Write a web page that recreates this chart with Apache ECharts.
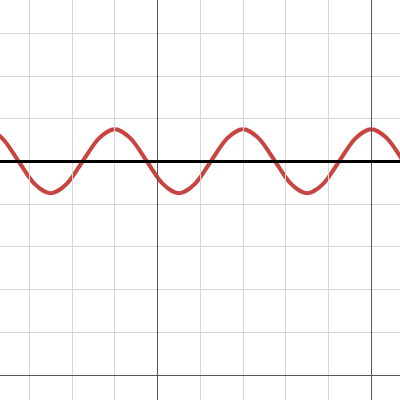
<!DOCTYPE html>
<html><head><meta charset="utf-8">
<script src="https://cdn.jsdelivr.net/npm/echarts@6/dist/echarts.min.js"></script>
<style>html,body{margin:0;padding:0;background:#fff}#c{width:400px;height:400px}</style>
</head><body><div id="c"></div>
<script>
// Values: wave points (x, y)
const waveX = [-4.375,-4,-3.625,-3.25,-2.875,-2.5,-2.125,-1.75,-1.375,-1,-0.625,-0.25,0.125,0.5,0.875,1.25,1.625,2,2.375,2.75,3.125,3.5,3.875,4.25,4.625,5,5.375,5.75,6.125];
const waveY = [5.53,5.75,5.53,5,4.47,4.25,4.47,5,5.53,5.75,5.53,5,4.47,4.25,4.47,5,5.53,5.75,5.53,5,4.47,4.25,4.47,5,5.53,5.75,5.53,5,4.47];
const flatLineY = 5;
const xTicks = [-3,-2,-1,0,1,2,3,4,5];
const yTicks = [0,1,2,3,4,5,6,7,8];
const darkX = [0,5];
const darkY = [0];

const chart = echarts.init(document.getElementById('c'));
const ml = (arr, axis, color, w) => arr.map(v => ({[axis]: v, lineStyle:{color, width:w, type:'solid'}}));
chart.setOption({
  animation:false,
  grid:{left:0,right:0,top:0,bottom:0},
  xAxis:{type:'value',min:-3.684,max:5.673,show:false},
  yAxis:{type:'value',min:-0.585,max:8.772,show:false},
  series:[
    {type:'line',data:[],silent:true,markLine:{symbol:'none',label:{show:false},silent:true,
      data: ml(xTicks.filter(v=>!darkX.includes(v)),'xAxis','#d6d6d6',1)
        .concat(ml(yTicks.filter(v=>!darkY.includes(v)),'yAxis','#d6d6d6',1))
        .concat(ml(darkX,'xAxis','#555',1)).concat(ml(darkY,'yAxis','#555',1))}},
    {type:'line',data:[],silent:true,z:3,markLine:{symbol:'none',label:{show:false},silent:true,
      data:[{yAxis:flatLineY,lineStyle:{color:'#000',width:3,type:'solid'}}]}},
    {type:'line',data:waveX.map((x,i)=>[x,waveY[i]]),smooth:0.3,symbol:'none',lineStyle:{color:'#c74440',width:4},z:4}
  ]
});
</script></body></html>
